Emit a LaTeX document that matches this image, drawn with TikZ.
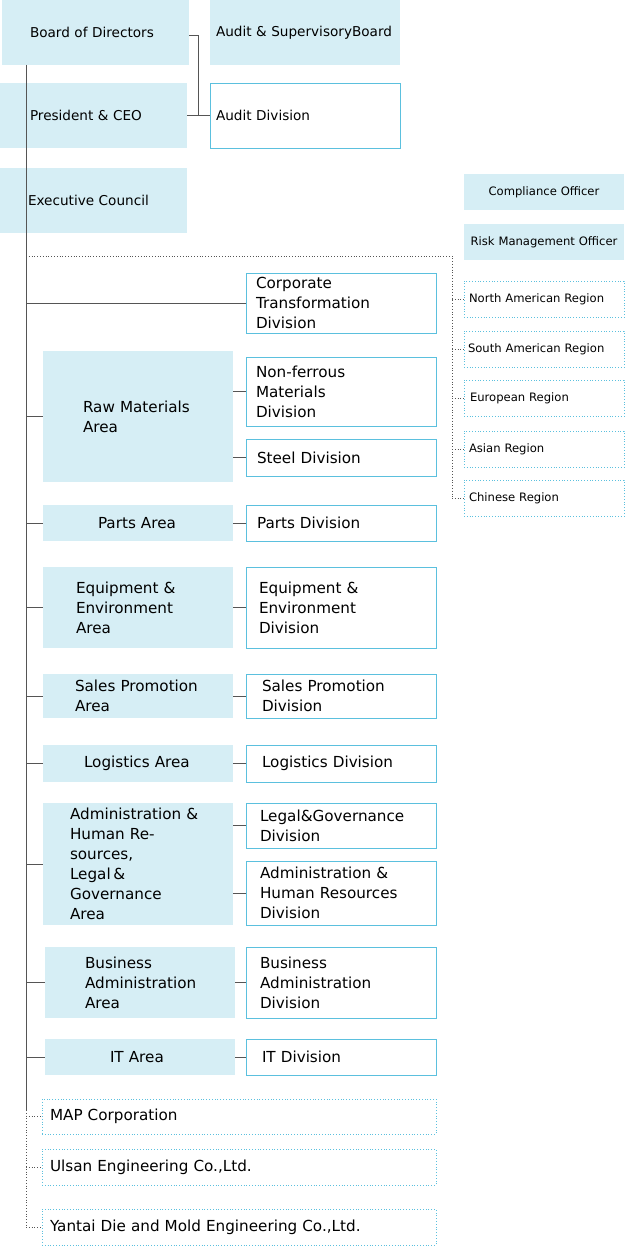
\documentclass[tikz,border=0pt]{standalone}
\usepackage{fontspec}
\setmainfont{DejaVu Sans}
\usetikzlibrary{positioning}

% box from corner (x1,y1) to (x2,y2), text padded by #7 on the left
\newcommand{\orgbox}[8][]{%
  \pgfmathsetmacro{\cx}{(#3+#5)/2}\pgfmathsetmacro{\cy}{(#4+#6)/2}%
  \pgfmathsetmacro{\bw}{#5-#3-2*#7}\pgfmathsetmacro{\bh}{#6-#4}%
  \node[#1, text width=\bw pt, inner xsep=#7pt, minimum height=\bh pt] (#2) at (\cx,\cy) {#8};}

\begin{document}
\begin{tikzpicture}[x=1pt, y=-1pt,
    filled/.style={fill=boxfill, draw=none, align=left, inner ysep=0pt},
    framed/.style={fill=white, draw=boxline, line width=0.8pt, align=left, inner ysep=0pt},
    dotbox/.style={fill=white, draw=boxline, dotted, line width=0.8pt, align=left, inner ysep=0pt},
    big/.style={font=\fontsize{15.2}{20}\selectfont},
    mid/.style={font=\fontsize{13.6}{16}\selectfont},
    small/.style={font=\fontsize{11.6}{13}\selectfont},
    link/.style={draw=linegray, line width=0.8pt},
    dotlink/.style={draw=linegray, dotted, line width=0.8pt}
  ]
  \definecolor{boxfill}{HTML}{D6EEF5}
  \definecolor{boxline}{HTML}{5BC0DE}
  \definecolor{linegray}{HTML}{555555}
  \useasboundingbox (0,0) rectangle (625,1246);

  %top
  \orgbox[filled,mid]{board}{2}{0}{189}{65}{28}{Board of Directors}
  \orgbox[filled,mid]{audsup}{210}{0}{400}{65}{6}{Audit \& SupervisoryBoard}
  \orgbox[filled,mid]{pres}{0}{83}{187}{148}{30}{President \& CEO}
  \orgbox[framed,mid]{auddiv}{210}{83}{400}{148}{6}{Audit Division}
  \orgbox[filled,mid]{exec}{0}{168}{187}{233}{28}{Executive Council}

  %officers and regions
  \orgbox[filled,small,align=center]{comp}{464}{174}{624}{210}{2}{Compliance Officer}
  \orgbox[filled,small,align=center]{risk}{464}{224}{624}{260}{1}{Risk Management Officer}
  \orgbox[dotbox,small]{north}{464}{281}{624}{317}{5}{North American Region}
  \orgbox[dotbox,small]{south}{464}{331}{624}{367}{4}{South American Region}
  \orgbox[dotbox,small]{europe}{464}{380}{624}{416}{6}{European Region}
  \orgbox[dotbox,small]{asia}{464}{431}{624}{467}{5}{Asian Region}
  \orgbox[dotbox,small]{china}{464}{480}{624}{516}{5}{Chinese Region}

  %areas and divisions
  \orgbox[framed,big]{corp}{246}{273}{436}{333}{10}{Corporate\\Transformation\\Division}
  \orgbox[filled,big]{raw}{43}{351}{233}{482}{40}{Raw Materials\\Area}
  \orgbox[framed,big]{nonfe}{246}{357}{436}{426}{10}{Non-ferrous\\Materials\\Division}
  \orgbox[framed,big]{steel}{246}{439}{436}{476}{11}{Steel Division}
  \orgbox[filled,big]{parts}{43}{505}{233}{541}{55}{Parts Area}
  \orgbox[framed,big]{partsdiv}{246}{505}{436}{541}{11}{Parts Division}
  \orgbox[filled,big]{equip}{43}{567}{233}{648}{33}{Equipment \&\\Environment\\Area}
  \orgbox[framed,big]{equipdiv}{246}{567}{436}{648}{13}{Equipment \&\\Environment\\Division}
  \orgbox[filled,big]{sales}{43}{674}{233}{718}{32}{Sales Promotion\\Area}
  \orgbox[framed,big]{salesdiv}{246}{674}{436}{718}{16}{Sales Promotion\\Division}
  \orgbox[filled,big]{logi}{43}{745}{233}{782}{41}{Logistics Area}
  \orgbox[framed,big]{logidiv}{246}{745}{436}{782}{16}{Logistics Division}
  \orgbox[filled,big]{admin}{43}{803}{233}{925}{27}{Administration \&\\Human Resources,\\Legal\,\&\\Governance\\Area}
  \orgbox[framed,big]{legaldiv}{246}{803}{436}{848}{14}{Legal\&Governance\\Division}
  \orgbox[framed,big]{admindiv}{246}{861}{436}{925}{14}{Administration \&\\Human Resources\\Division}
  \orgbox[filled,big]{busi}{45}{947}{235}{1018}{40}{Business\\Administration\\Area}
  \orgbox[framed,big]{busidiv}{246}{947}{436}{1018}{14}{Business\\Administration\\Division}
  \orgbox[filled,big]{it}{45}{1039}{235}{1075}{65}{IT Area}
  \orgbox[framed,big]{itdiv}{246}{1039}{436}{1075}{16}{IT Division}

  %group companies
  \orgbox[dotbox,big]{map}{42}{1099}{436}{1134}{8}{MAP Corporation}
  \orgbox[dotbox,big]{ulsan}{42}{1149}{436}{1185}{8}{Ulsan Engineering Co.,Ltd.}
  \orgbox[dotbox,big]{yantai}{42}{1209}{436}{1245}{8}{Yantai Die and Mold Engineering Co.,Ltd.}

  %spine
  \coordinate (top) at (26,65);
  \coordinate (spineend) at (26,1110);
  \coordinate (dotend) at (26,1227);
  \coordinate (dotcorner) at (452,256);
  \coordinate (dotstart) at (26,256);
  \coordinate (audx) at (198,35);
  \coordinate (adminjoin) at (26,864);
  \draw[link] (top) -- (spineend);
  \draw[dotlink] (spineend) -- (dotend);

  %lines
  \draw[link] (board.east |- audx) -- (audx) |- (auddiv.west);
  \draw[link] (pres) -- (auddiv);
  \draw[dotlink] (dotstart) -- (dotcorner) -- (dotcorner |- china);
  \foreach \r in {north,south,europe,asia,china}
    \draw[dotlink] (dotcorner |- \r) -- (\r.west);
  \foreach \n in {corp,raw,parts,equip,sales,logi,busi,it}
    \draw[link] (top |- \n) -- (\n.west);
  \draw[link] (adminjoin) -- (admin.west);
  \foreach \a/\d in {raw/nonfe,raw/steel,parts/partsdiv,equip/equipdiv,sales/salesdiv,logi/logidiv,admin/legaldiv,admin/admindiv,busi/busidiv,it/itdiv}
    \draw[link] (\a.east |- \d) -- (\d.west);
  \foreach \g in {map,ulsan,yantai}
    \draw[dotlink] (top |- \g) -- (\g.west);
\end{tikzpicture}
\end{document}
